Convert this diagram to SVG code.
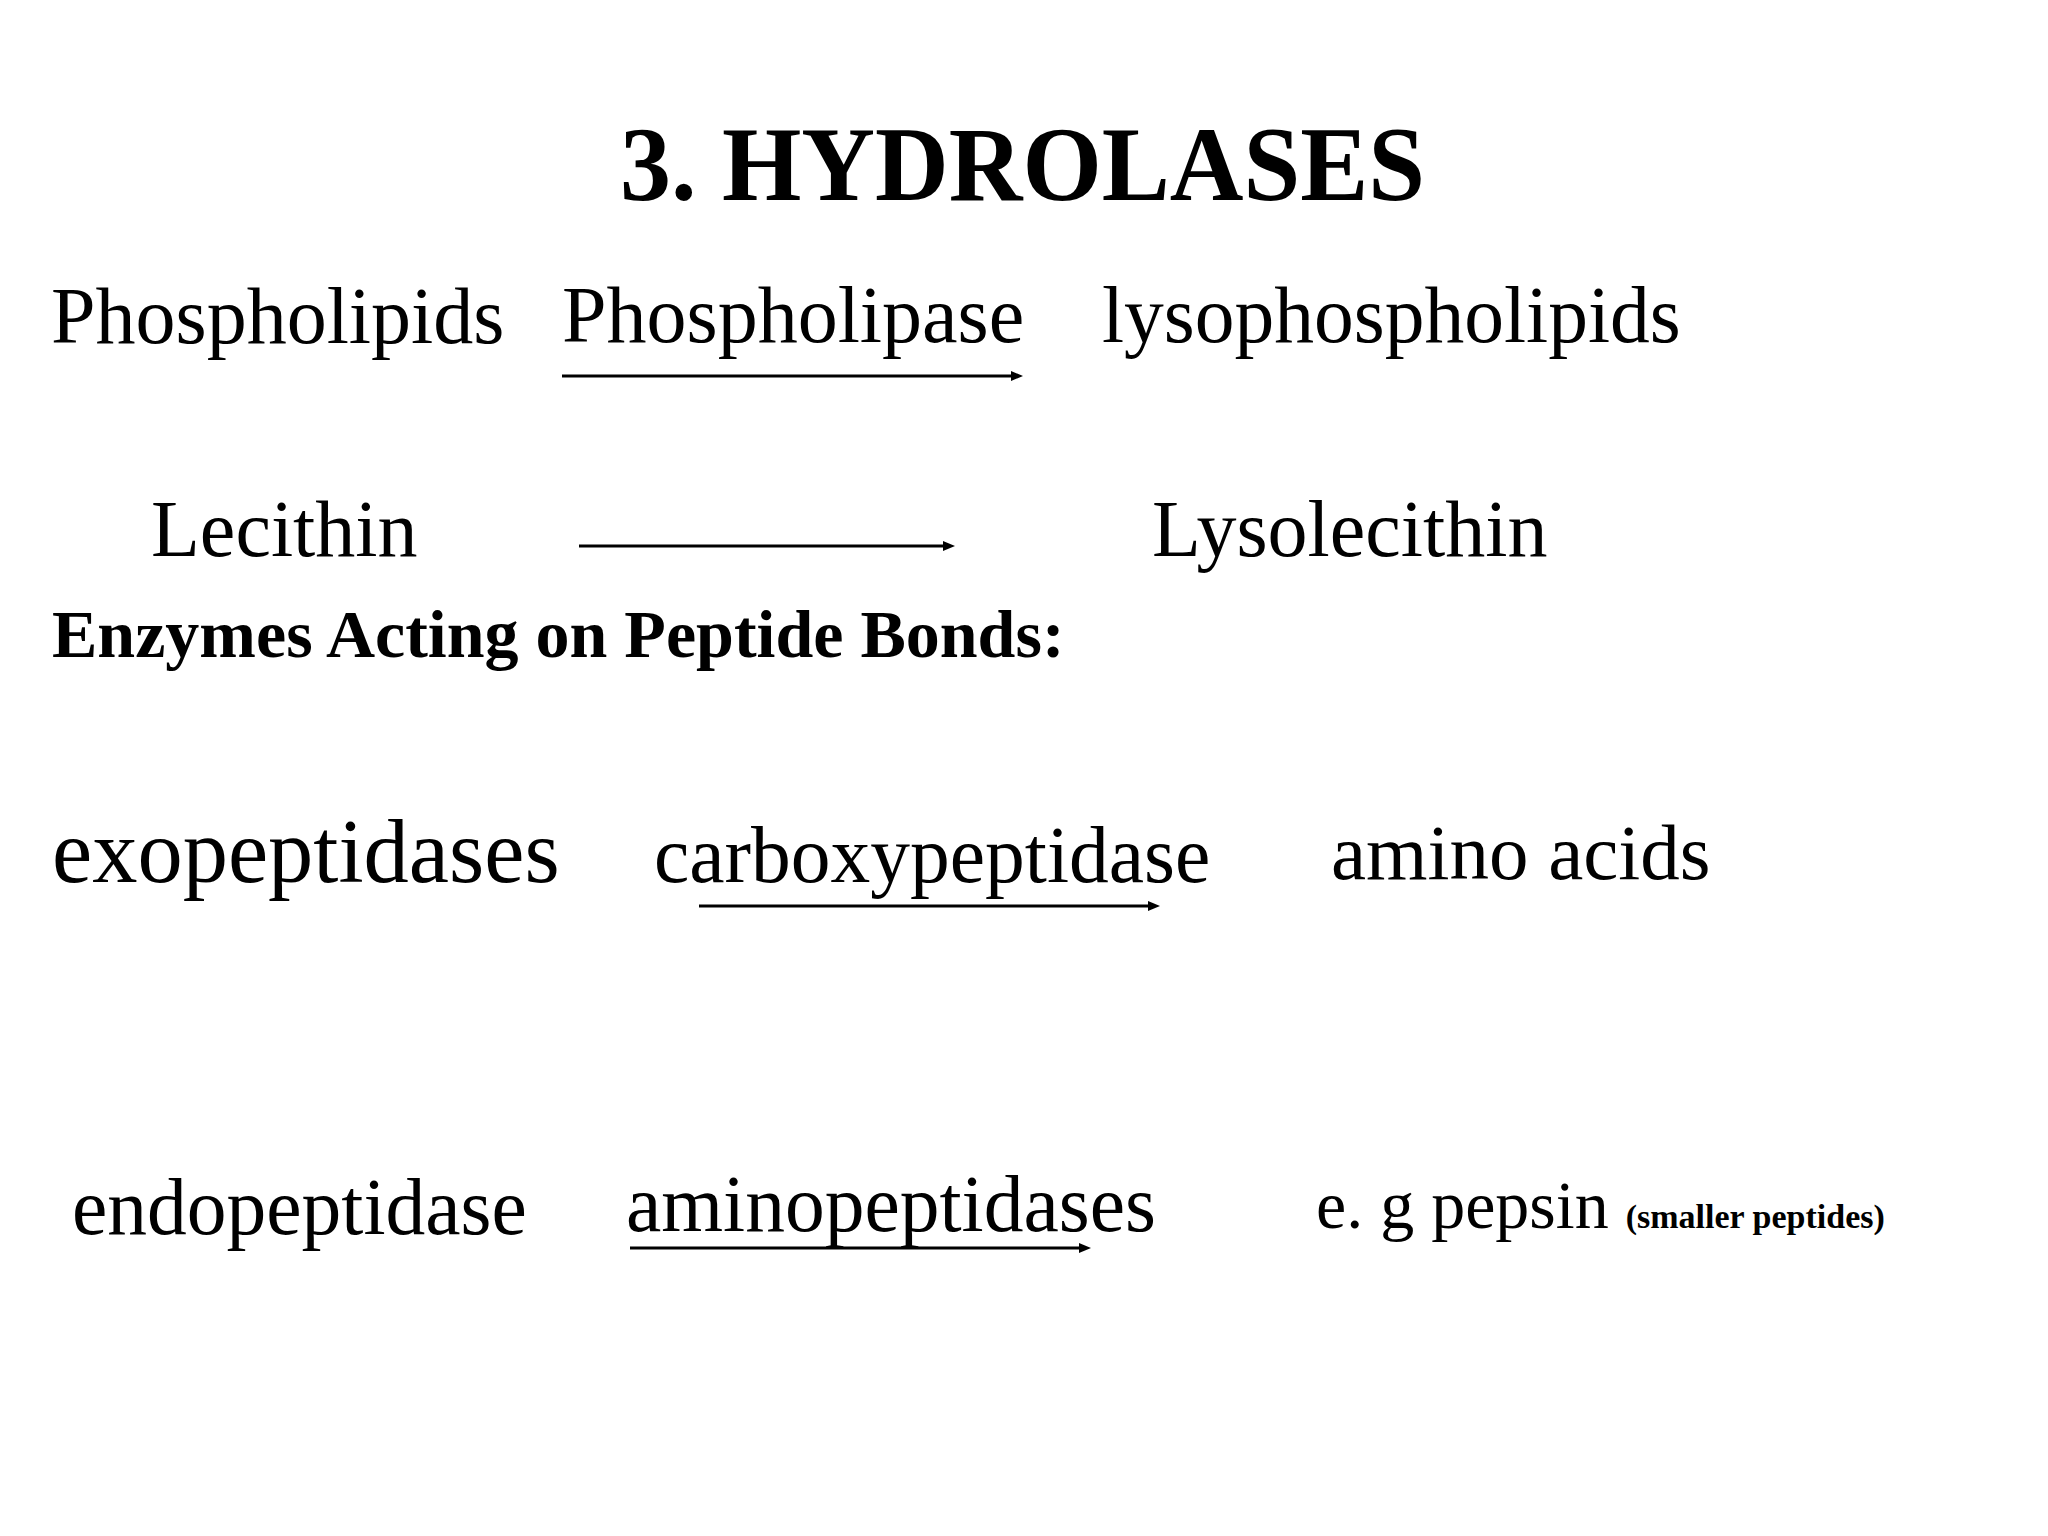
<svg xmlns="http://www.w3.org/2000/svg" width="2048" height="1536" viewBox="0 0 2048 1536">
<style>
.t{font-family:"Liberation Serif","Times New Roman",serif;fill:#000}
.b{font-weight:bold}
.arr{stroke:#000;stroke-width:3;fill:none}
</style>
<defs>
<marker id="ah" markerWidth="12" markerHeight="10" refX="1" refY="5" orient="auto" markerUnits="userSpaceOnUse"><path d="M0,0 L12,5 L0,10 z" fill="#000"/></marker>
</defs>
<rect width="2048" height="1536" fill="#fff"/>
<g id="title"><text class="t b" x="620" y="200" font-size="106" textLength="805" lengthAdjust="spacingAndGlyphs">3. HYDROLASES</text></g>
<g id="phospholipids"><text class="t" x="51" y="343" font-size="80">Phospholipids</text></g>
<g id="phospholipase"><text class="t" x="562" y="342" font-size="80">Phospholipase</text></g>
<g id="lysophospholipids"><text class="t" x="1102" y="342" font-size="79.5">lysophospholipids</text></g>
<g id="lecithin"><text class="t" x="151" y="556" font-size="80">Lecithin</text></g>
<g id="lysolecithin"><text class="t" x="1152" y="556" font-size="80">Lysolecithin</text></g>
<g id="heading"><text class="t b" x="52" y="657" font-size="68">Enzymes Acting on Peptide Bonds:</text></g>
<g id="exopeptidases"><text class="t" x="52" y="882" font-size="90.5">exopeptidases</text></g>
<g id="carboxypeptidase"><text class="t" x="654" y="882" font-size="79.5">carboxypeptidase</text></g>
<g id="aminoacids"><text class="t" x="1331" y="879" font-size="79">amino acids</text></g>
<g id="endopeptidase"><text class="t" x="72" y="1234" font-size="79.5">endopeptidase</text></g>
<g id="aminopeptidases"><text class="t" x="626" y="1231" font-size="79.5">aminopeptidases</text></g>
<g id="pepsin"><text class="t" x="1316" y="1228" font-size="68">e. g pepsin <tspan class="b" font-size="34">(smaller peptides)</tspan></text></g>
<g id="connectors">
<line class="arr" x1="562" y1="376" x2="1012" y2="376" marker-end="url(#ah)"/>
<line class="arr" x1="579" y1="546" x2="944" y2="546" marker-end="url(#ah)"/>
<line class="arr" x1="699" y1="906" x2="1149" y2="906" marker-end="url(#ah)"/>
<line class="arr" x1="630" y1="1248" x2="1080" y2="1248" marker-end="url(#ah)"/>
</g>
</svg>
